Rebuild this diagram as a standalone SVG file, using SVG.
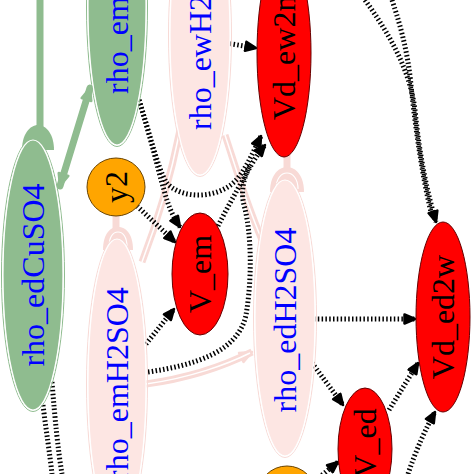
<svg xmlns="http://www.w3.org/2000/svg" width="474" height="474" viewBox="0 0 474 474">
<style>
.d{fill:none;stroke:#000;stroke-width:5;stroke-dasharray:1.5 2.3}
.g{fill:none;stroke:#8fbc8f;stroke-width:7;stroke-linecap:round}
.p{fill:none;stroke:#f8dad6;stroke-width:7}
.pc{fill:none;stroke:#fff;stroke-width:1.5}
.red{fill:#ff0000;stroke:#600;stroke-width:1}
.org{fill:#ffa500;stroke:#6b4400;stroke-width:1}
.grn{fill:#8fbc8f;stroke:#fff;stroke-width:1.2}
.grno{fill:none;stroke:#8fbc8f;stroke-width:1}
.pnk{fill:#fde6e3;stroke:#fff;stroke-width:1.2}
.pnko{fill:none;stroke:#f8dad6;stroke-width:1}
.tb{font-family:"Liberation Serif","Times New Roman",serif;font-size:32px;fill:#0000ff;text-anchor:middle;dominant-baseline:central}
.tk{font-family:"Liberation Serif","Times New Roman",serif;font-size:32px;fill:#000;text-anchor:middle;dominant-baseline:central}
</style>
<defs>
<marker id="ab" viewBox="0 0 14 12" refX="12" refY="6" markerWidth="14" markerHeight="12" markerUnits="userSpaceOnUse" orient="auto"><path d="M1.5,1.5 L12,6 L1.5,10.5 z" fill="#000" stroke="#000" stroke-width="2.5" stroke-linejoin="round" stroke-dasharray="none"/></marker>
<marker id="ag" viewBox="0 0 16 14" refX="14" refY="7" markerWidth="16" markerHeight="14" markerUnits="userSpaceOnUse" orient="auto-start-reverse"><path d="M2,2 L14,7 L2,12 z" fill="#8fbc8f" stroke="#8fbc8f" stroke-width="2.5" stroke-linejoin="round"/></marker>
<marker id="ap" viewBox="0 0 16 14" refX="14" refY="7" markerWidth="16" markerHeight="14" markerUnits="userSpaceOnUse" orient="auto"><path d="M2,2 L14,7 L2,12 z" fill="#f8dad6" stroke="#f8dad6" stroke-width="2.5" stroke-linejoin="round"/></marker>
</defs>
<rect width="474" height="474" fill="#fff"/>
<g id="connectors">
<path class="g" d="M40,0 L40,128"/>
<path d="M22,150 C22,134 30,125 38,125 C46,125 54,134 54,150 z" fill="#8fbc8f"/>
<path class="g" d="M60,186 L90,88" marker-start="url(#ag)" marker-end="url(#ag)"/>
<path class="p" d="M180,130 C172,170 160,215 142,262"/>
<path class="pc" d="M180,130 C172,170 160,215 142,262"/>
<path class="p" d="M225,135 C235,165 245,200 262,240"/>
<path class="pc" d="M225,135 C235,165 245,200 262,240"/>
<path class="p" d="M116,205 L116,232"/>
<path d="M103,250 C103,234 110,227 118,227 C126,227 133,234 133,250 z" fill="#f8dad6"/>
<path d="M109,247 C109,237 113,232 118,232 C123,232 127,237 127,247" fill="none" stroke="#fff" stroke-width="1.2"/>
<path class="p" d="M287,150 L287,170"/>
<path d="M270,192 C270,176 278,167 287,167 C296,167 304,176 304,192 z" fill="#f8dad6"/>
<path d="M276,189 C276,179 281,173 287,173 C293,173 298,179 298,189" fill="none" stroke="#fff" stroke-width="1.2"/>
<path class="p" d="M146,384 C190,378 228,364 252,352" marker-end="url(#ap)"/>
<path class="pc" d="M146,384 C190,378 228,364 250,353"/>
<path class="d" d="M139,100 C150,135 158,170 164,190 C168,205 172,215 180,227" marker-end="url(#ab)"/>
<path class="d" d="M139,100 C150,135 158,168 166,182 C180,200 220,200 238,178 C248,165 254,150 261,136" marker-end="url(#ab)"/>
<path class="d" d="M218,226 C226,210 236,192 244,178 C250,167 256,156 265,145" marker-end="url(#ab)"/>
<path class="d" d="M148,372 C195,365 238,352 246,315 C252,280 252,235 244,205 C240,190 245,175 250,165"/>
<path class="d" d="M137,206 L175,242" marker-end="url(#ab)"/>
<path class="d" d="M146,344 L174,309" marker-end="url(#ab)"/>
<path class="d" d="M226,43 L256,48" marker-end="url(#ab)"/>
<path class="d" d="M365,0 C390,35 410,70 415,110 C420,160 428,195 436,222" marker-end="url(#ab)"/>
<path class="d" d="M392,0 C402,30 408,55 411,85 C416,135 424,185 432,216"/>
<path class="d" d="M314,319 L415,319" marker-end="url(#ab)"/>
<path class="d" d="M312,363 L343,405" marker-end="url(#ab)"/>
<path class="d" d="M389,410 L418,363" marker-end="url(#ab)"/>
<path class="d" d="M408,474 C416,450 426,428 435,412" marker-end="url(#ab)"/>
<path class="d" d="M316,480 L338,462" marker-end="url(#ab)"/>
<path class="d" d="M52,382 C55,420 58,450 62,474"/>
<path class="d" d="M43,405 C46,430 50,455 52,474"/>
</g>
<g id="rho_edCuSO4">
<ellipse class="grno" cx="33" cy="275" rx="31.5" ry="136.5"/>
<ellipse class="grn" cx="33" cy="275" rx="30" ry="135"/>
<text class="tb" x="33" y="275" transform="rotate(-90 33 275)">rho_edCuSO4</text>
</g>
<g id="rho_emCuSO4">
<ellipse class="grno" cx="117" cy="7" rx="30.5" ry="139.5"/>
<ellipse class="grn" cx="117" cy="7" rx="29" ry="138"/>
<text class="tb" x="117" y="-2" transform="rotate(-90 117 -2)">rho_emCuSO4</text>
</g>
<g id="rho_ewH2SO4">
<ellipse class="pnko" cx="200" cy="35" rx="31.5" ry="141.5"/>
<ellipse class="pnk" cx="200" cy="35" rx="30" ry="140"/>
<text class="tb" x="200" y="34" transform="rotate(-90 200 34)">rho_ewH2SO4</text>
</g>
<g id="Vd_ew2m">
<ellipse class="red" cx="284" cy="53" rx="27" ry="104"/>
<text class="tk" x="284" y="120" style="text-anchor:start" transform="rotate(-90 284 120)">Vd_ew2m</text>
</g>
<g id="y2">
<circle class="org" cx="116" cy="187" r="29"/>
<text class="tk" x="116" y="187" transform="rotate(-90 116 187)">y2</text>
</g>
<g id="V_em">
<ellipse class="red" cx="200" cy="274" rx="28" ry="61"/>
<text class="tk" x="200" y="274" transform="rotate(-90 200 274)">V_em</text>
</g>
<g id="rho_emH2SO4">
<ellipse class="pnko" cx="117" cy="384" rx="30.5" ry="146.5"/>
<ellipse class="pnk" cx="117" cy="384" rx="29" ry="145"/>
<text class="tb" x="117" y="384" transform="rotate(-90 117 384)">rho_emH2SO4</text>
</g>
<g id="rho_edH2SO4">
<ellipse class="pnko" cx="285" cy="318" rx="31.5" ry="139.5"/>
<ellipse class="pnk" cx="285" cy="318" rx="30" ry="138"/>
<text class="tb" x="285" y="320" transform="rotate(-90 285 320)">rho_edH2SO4</text>
</g>
<g id="Vd_ed2w">
<ellipse class="red" cx="443" cy="317" rx="27" ry="95"/>
<text class="tk" x="443" y="317" transform="rotate(-90 443 317)">Vd_ed2w</text>
</g>
<g id="V_ed">
<ellipse class="red" cx="365" cy="449" rx="27" ry="61"/>
<text class="tk" x="365" y="443" transform="rotate(-90 365 443)">V_ed</text>
</g>
<g id="y_bottom">
<circle class="org" cx="287" cy="495" r="29"/>
</g>
</svg>
